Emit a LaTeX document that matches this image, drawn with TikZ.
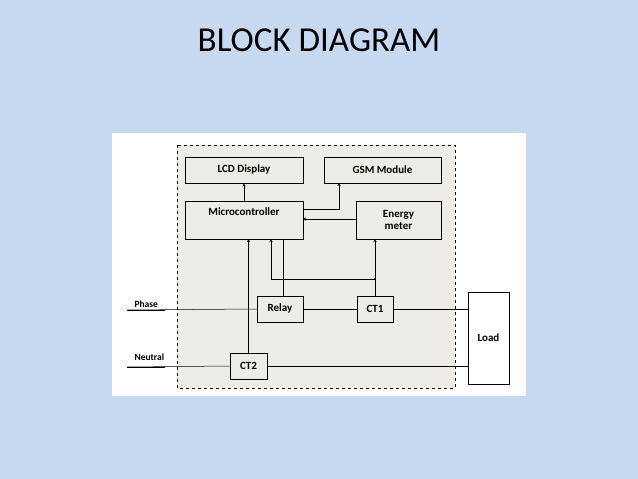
\documentclass[tikz,border=0pt]{standalone}
\usepackage{fontspec}
\setmainfont{Carlito}
\usetikzlibrary{arrows.meta}
\definecolor{bg}{HTML}{C6D9F1}
\definecolor{paper}{HTML}{EEECE7}
\begin{document}
\begin{tikzpicture}[x=1pt,y=-1pt,
  blk/.style={draw,line width=0.9pt,inner sep=0pt,font=\fontsize{11}{12}\selectfont\bfseries,align=center},
  wire/.style={line width=0.9pt},
  arr/.style={wire,-{Stealth[length=3pt,width=3pt]}},
  thin/.style={line width=0.5pt}]
\fill[bg] (0,0) rectangle (638,479);
\node[font=\fontsize{35}{40}\selectfont] (title) at (319,40) {BLOCK DIAGRAM};
\fill[white] (112,133) rectangle (526,396);
\fill[paper] (177,145) rectangle (455,388);
\draw[dashed,line width=1pt] (177,145) rectangle (455,388);
\node[blk,minimum width=118,minimum height=26] (lcd) at (244,170) {LCD Display};
\node[blk,minimum width=117,minimum height=26] (gsm) at (382.5,170) {GSM Module};
\node[blk,minimum width=118,minimum height=38] (mc) at (244,220) {};
\node[font=\fontsize{11}{12}\selectfont\bfseries] (mct) at (244,212) {Microcontroller};
\node[blk,minimum width=85,minimum height=38] (em) at (398.5,220) {Energy\\meter};
\node[blk,minimum width=46,minimum height=26] (relay) at (280,309) {Relay};
\node[blk,minimum width=36,minimum height=26] (ct1) at (375,309) {CT1};
\node[blk,minimum width=37,minimum height=26] (ct2) at (248.5,366) {CT2};
\node[blk,minimum width=41,minimum height=92] (load) at (488.5,338) {Load};
\node[font=\fontsize{9.5}{10}\selectfont\bfseries,anchor=west] (ph) at (131,304) {Phase};
\node[font=\fontsize{9.5}{10}\selectfont\bfseries,anchor=west] (ne) at (131,357) {Neutral};
\coordinate (p0) at (127,310);
\coordinate (n0) at (127,367);
\coordinate (j) at (375,279);
\coordinate (jl) at (271,279);
\coordinate (jt) at (271,239);
\coordinate (g1) at (303,209);
\coordinate (g2) at (339,209);
\coordinate (g3) at (339,183);
\coordinate (e1) at (356,219);
\coordinate (e2) at (303,219);
\coordinate (r1) at (283,296);
\coordinate (r2) at (283,239);
\coordinate (c2t) at (248.5,239);
\coordinate (emb) at (375,239);
\draw[thin] (p0) -- (relay.west);
\draw[wire] (relay.east) -- (ct1.west);
\draw[thin] (ct1.east) -- (load.west |- ct1.east);
\draw[thin] (n0) -- (ct2.west);
\draw[thin] (ct2.east) -- (load.west |- ct2.east);
\draw[wire] (p0) -- (165,310);
\draw[wire] (n0) -- (165,367);
\draw[arr] (mc.north) -- (lcd.south);
\draw[arr] (g1) -- (g2) -- (g3);
\draw[arr] (e1) -- (e2);
\draw[arr] (ct1.north) -- (emb);
\draw[arr,thin] (j) -- (jl) -- (jt);
\fill (j) circle (1.2);
\draw[wire] (r1) -- (r2);
\draw[arr] (ct2.north) -- (c2t);
\end{tikzpicture}
\end{document}
